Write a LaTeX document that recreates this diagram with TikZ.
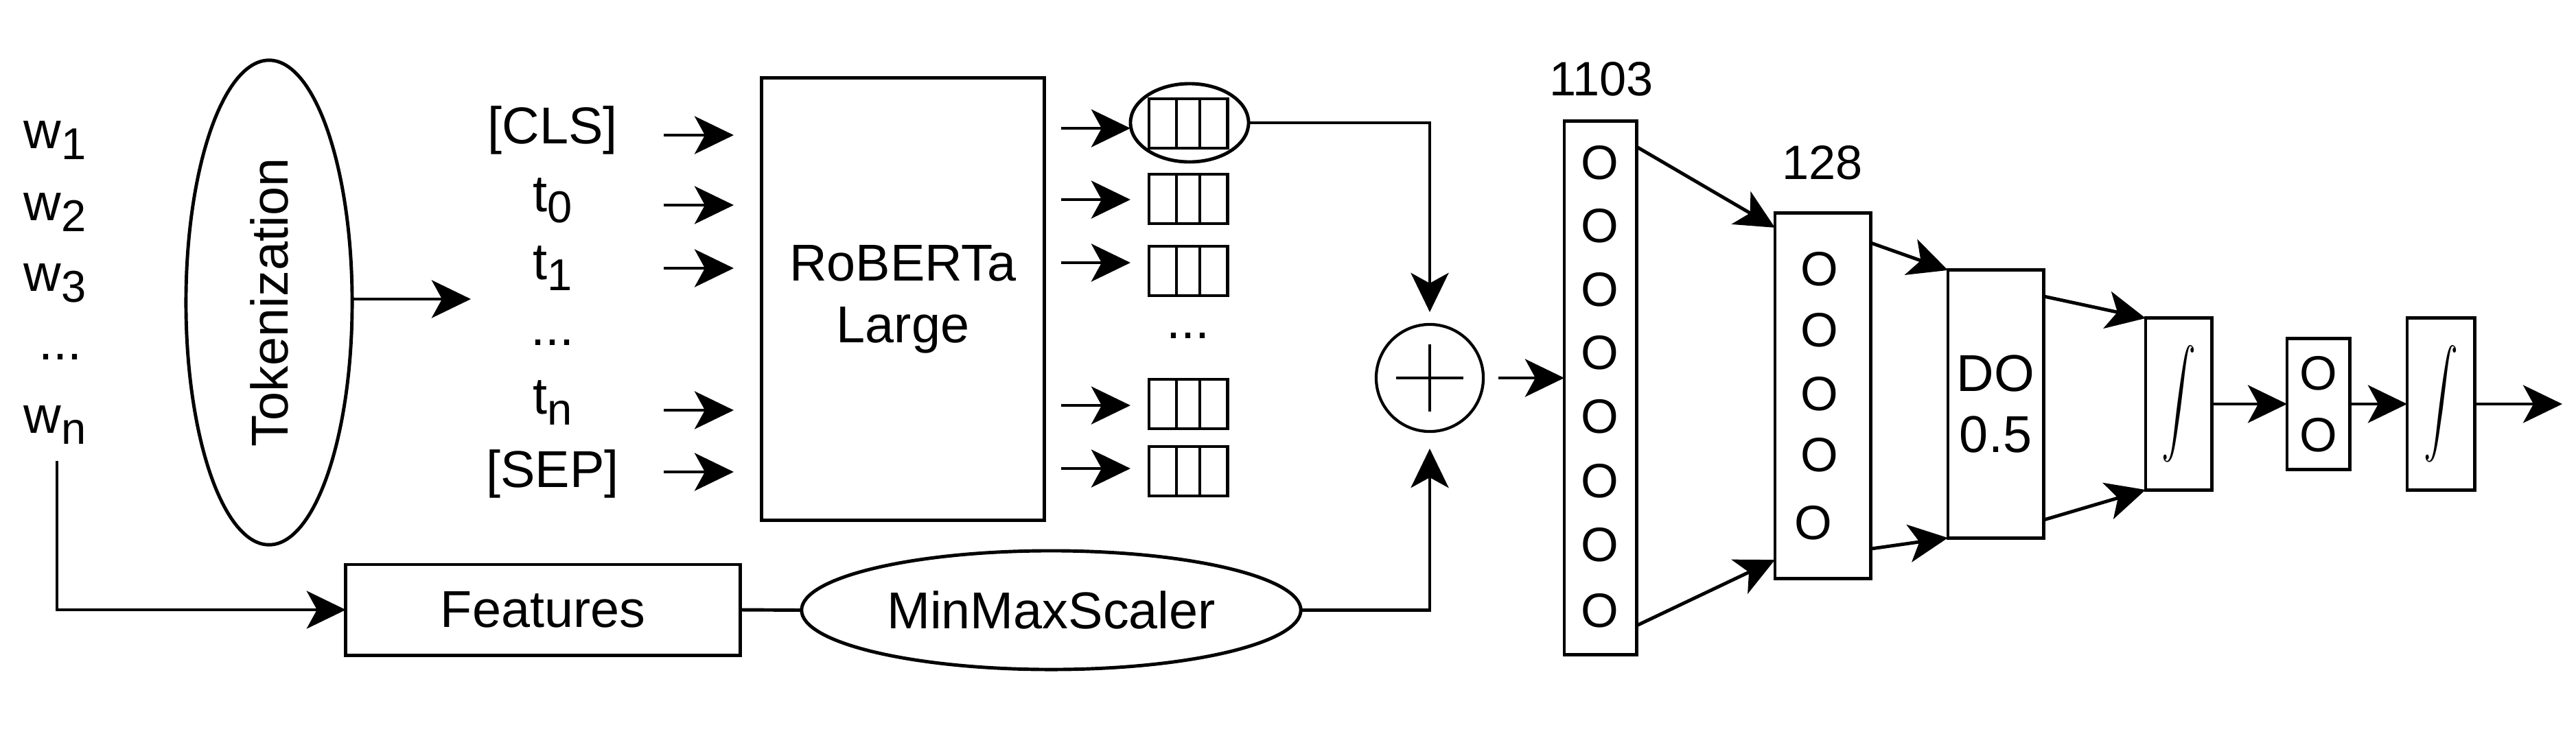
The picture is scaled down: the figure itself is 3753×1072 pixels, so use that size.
\documentclass[tikz,border=0pt]{standalone}
\usepackage{fontspec}
\setmainfont{Liberation Sans}
\usepackage{graphicx}
\usetikzlibrary{arrows.meta,shapes.geometric,calc}
\newcommand\subs[1]{\raisebox{-0.16cm}{\fontsize{18.5pt}{20pt}\selectfont #1}}
\newcommand\intsym{\resizebox{0.5cm}{1.25cm}{$\displaystyle\int$}}
\begin{document}
\begin{tikzpicture}[x=0.01cm,y=-0.01cm,
  every node/.style={font=\fontsize{21.5pt}{25.5pt}\selectfont, inner sep=0pt, outer sep=0pt},
  lw/.style={line width=1.4pt},
  arr/.style={lw, -{Stealth[length=0.57cm,width=0.55cm,inset=0.15cm]}},
  box/.style={draw, lw, rectangle, inner sep=0pt},
  lbl/.style={font=\fontsize{20pt}{24pt}\selectfont},
  neur/.style={font=\fontsize{20pt}{25.6pt}\selectfont},
]
\useasboundingbox (0,0) rectangle (3753,1072);

% words
\node[anchor=base] (w1) at (80,216) {w\subs{1}};
\node[anchor=base] (w2) at (80,321) {w\subs{2}};
\node[anchor=base] (w3) at (80,424) {w\subs{3}};
\node[anchor=base] (wdots) at (88,524) {...};
\node[anchor=base] (wn) at (80,631) {w\subs{n}};

% tokenization
\node[draw, lw, ellipse, rotate=90, minimum width=7.06cm, minimum height=2.42cm] (tok) at (392,441) {Tokenization};
\coordinate (tokin) at (686,436);
\draw[arr] (tok.south |- tokin) -- (tokin);

% tokens
\node[anchor=base] (tcls) at (805,209) {[CLS]};
\node[anchor=base] (tt0) at (805,308) {t\subs{0}};
\node[anchor=base] (tt1) at (805,407) {t\subs{1}};
\node[anchor=base] (tdots) at (805,503) {...};
\node[anchor=base] (ttn) at (805,603) {t\subs{n}};
\node[anchor=base] (tsep) at (805,710) {[SEP]};

\foreach \i/\y in {1/197,2/299,3/391,4/598,5/688}{
  \coordinate (ia\i) at (967,\y);
  \coordinate (ib\i) at (1069,\y);
  \draw[arr] (ia\i) -- (ib\i);
}

% RoBERTa
\node[box, minimum width=4.11cm, minimum height=6.44cm, align=center] (rob) at (1315.5,436) {RoBERTa\\Large};

% output vectors
\foreach \i/\y in {1/180,2/290,3/395,4/589,5/687}{
  \node[box, minimum width=1.14cm, minimum height=0.72cm] (v\i) at (1731,\y) {};
  \draw[lw] ([xshift=-0.17cm]v\i.north) -- ([xshift=-0.17cm]v\i.south);
  \draw[lw] ([xshift=0.17cm]v\i.north) -- ([xshift=0.17cm]v\i.south);
}
\node[draw, lw, ellipse, minimum width=1.72cm, minimum height=1.14cm] (clsell) at (1733,179) {};
\node[anchor=base] (vdots) at (1731,493) {...};

\foreach \i/\y in {1/187,2/291,3/383,4/591,5/683}{
  \coordinate (oa\i) at (1546,\y);
}
\draw[arr] (oa1) -- (clsell.west |- oa1);
\foreach \i in {2,3,4,5}{
  \draw[arr, shorten >=0.27cm] (oa\i) -- (v\i.west |- oa\i);
}

% plus
\node[draw, circle, line width=1.2pt, minimum size=1.56cm] (plus) at (2083,551) {};
\draw[line width=1.1pt] ($(plus)+(-49,0)$) -- ($(plus)+(49,0)$);
\draw[line width=1.1pt] ($(plus)+(0,-49)$) -- ($(plus)+(0,49)$);

% features branch
\node[box, minimum width=5.74cm, minimum height=1.32cm] (feat) at (791,889) {Features};
\node[draw, lw, ellipse, minimum width=7.27cm, minimum height=1.73cm] (mms) at (1531.5,889.5) {MinMaxScaler};
\draw[lw] (feat.east) -- (mms.west);
\coordinate (wstart) at (83,672);
\draw[arr] (wstart) |- (feat.west);

% 1103 layer
\node[box, minimum width=1.05cm, minimum height=7.77cm] (n1103) at (2331.5,565.5) {};
\node[lbl] (l1103) at (2333,115) {1103};
\foreach \y [count=\k] in {237,329,422,514,607,701,794,890}
  \node[neur] (a\k) at (2331,\y) {O};

% 128 layer
\node[box, minimum width=1.39cm, minimum height=5.32cm] (n128) at (2655.5,577) {};
\node[lbl] (l128) at (2655,237) {128};
\foreach \x/\y [count=\k] in {2651/392,2651/481,2651/574,2651/663,2642/762}
  \node[neur] (b\k) at (\x,\y) {O};

% dropout, activations, output
\node[box, minimum width=1.39cm, minimum height=3.90cm, align=center] (do) at (2907.5,589) {DO\\0.5};
\node[box, minimum width=0.96cm, minimum height=2.50cm] (i1) at (3174,589) {\intsym};
\node[box, neur, minimum width=0.91cm, minimum height=1.90cm, align=center] (oo) at (3377.5,589) {O\\O};
\node[box, minimum width=0.98cm, minimum height=2.50cm] (i2) at (3556,589) {\intsym};
\coordinate (outc) at (3733,589);

% connectors
\draw[arr, shorten >=0.18cm] (clsell.east) -| (plus.north);
\draw[arr, shorten >=0.25cm] (mms.east) -| (plus.south);
\draw[arr, shorten <=0.22cm] (plus.east) -- (n1103.west |- plus.east);

\draw[arr] ([yshift=-0.37cm]n1103.north east) -- ([yshift=-0.21cm]n128.north west);
\draw[arr] ([yshift=0.42cm]n1103.south east) -- ([yshift=0.27cm]n128.south west);
\draw[arr] ([yshift=-0.43cm]n128.north east) -- (do.north west);
\draw[arr] ([yshift=0.43cm]n128.south east) -- (do.south west);
\draw[arr] ([yshift=-0.38cm]do.north east) -- (i1.north west);
\draw[arr] ([yshift=0.26cm]do.south east) -- (i1.south west);
\draw[arr] (i1.east) -- (oo.west);
\draw[arr] (oo.east) -- (i2.west);
\draw[arr] (i2.east) -- (outc);
\end{tikzpicture}
\end{document}
